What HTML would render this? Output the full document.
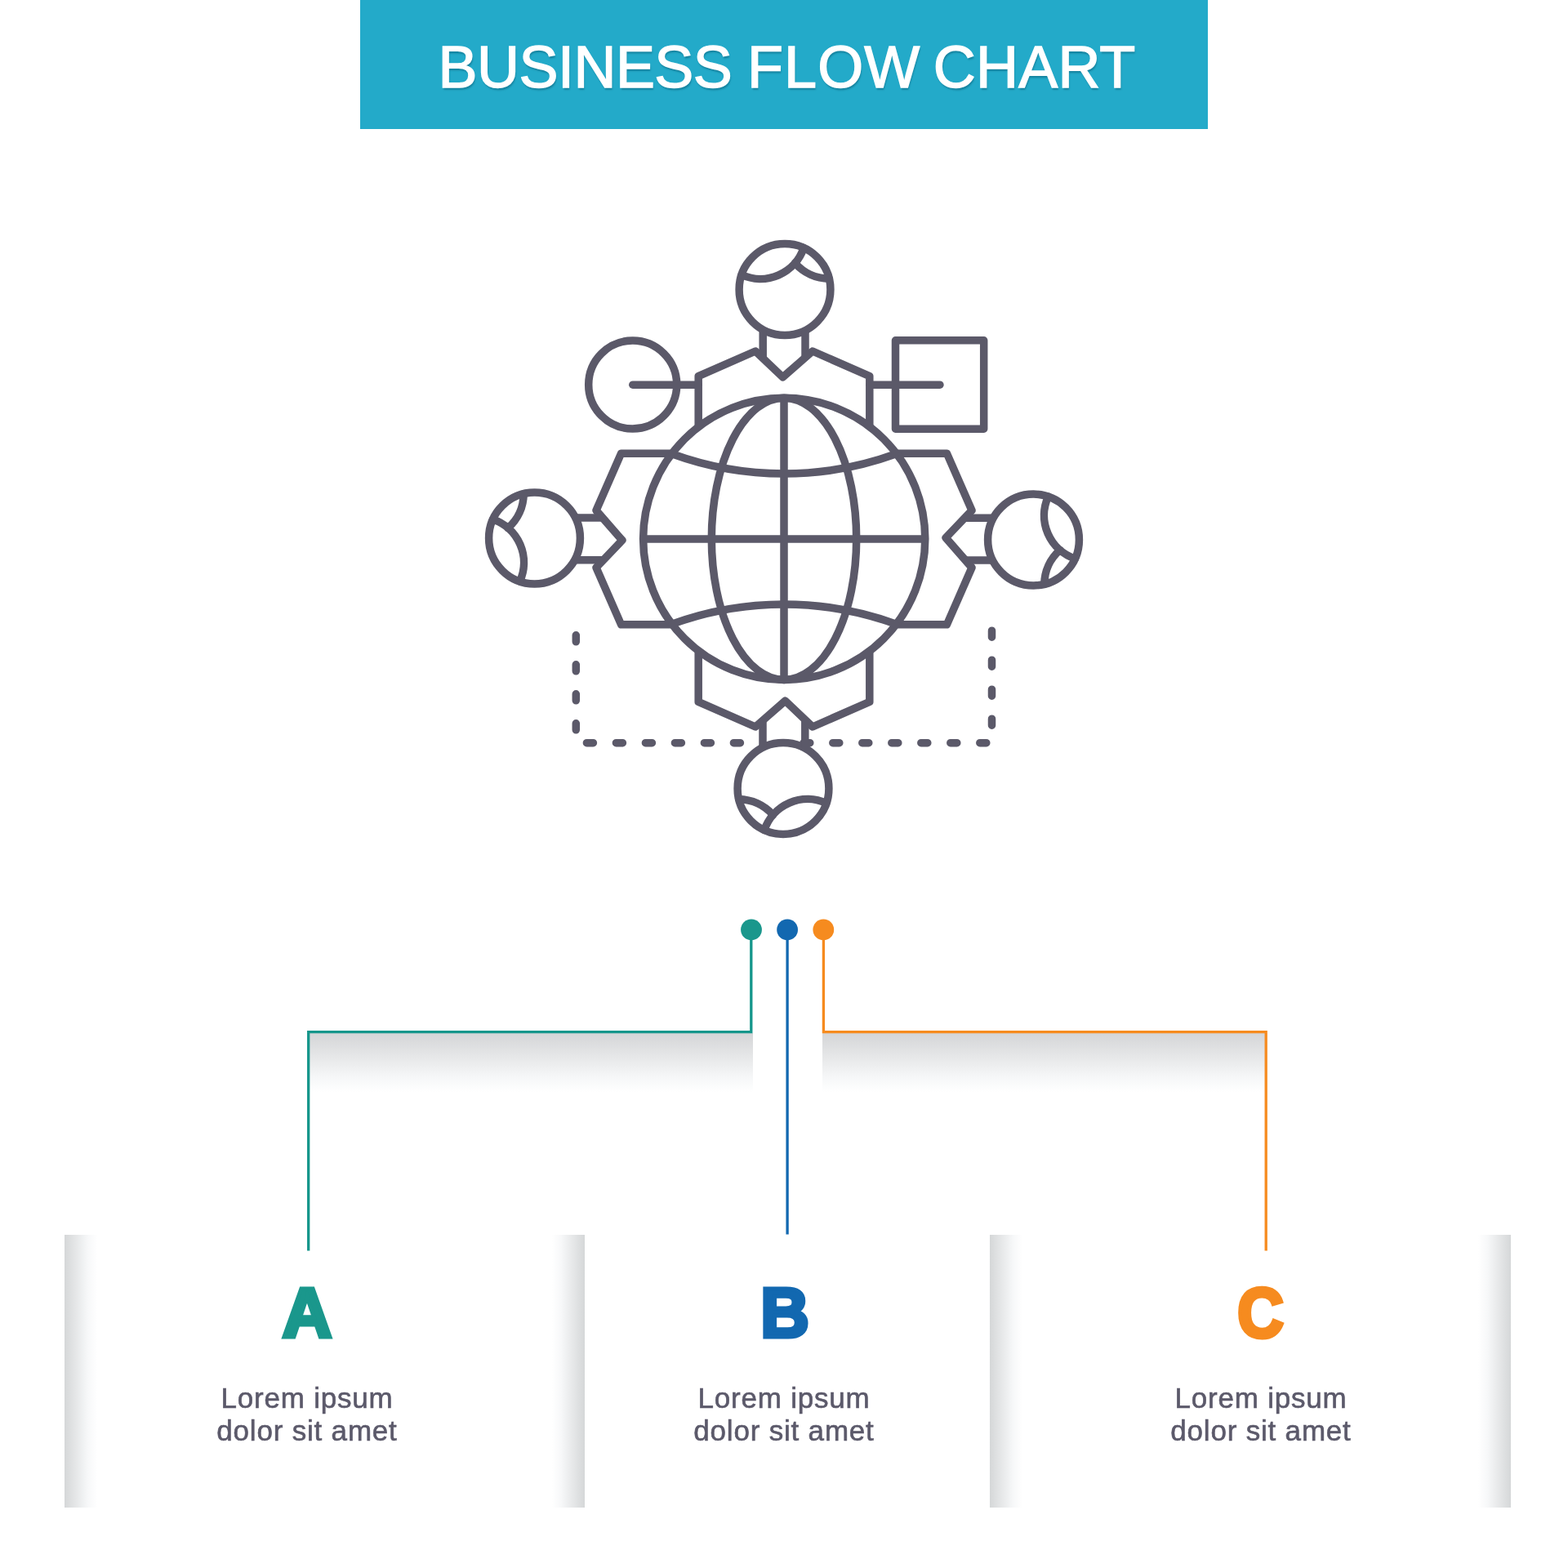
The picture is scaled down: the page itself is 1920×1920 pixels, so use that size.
<!DOCTYPE html>
<html lang="en">
<head>
<meta charset="utf-8">
<title>Business Flow Chart</title>
<style>
  html, body { margin: 0; padding: 0; }
  body {
    width: 1920px; height: 1920px; position: relative; overflow: hidden;
    background: #ffffff;
    font-family: "Liberation Sans", sans-serif;
  }
  .banner {
    position: absolute; left: 441px; top: 0; width: 1038px; height: 158px;
    background: #23aac9;
  }
  .banner h1 {
    position: absolute; left: 0; top: 0; width: 100%; margin: 0;
    font-weight: 400; font-size: 72px; line-height: 72px; color: #ffffff;
    white-space: nowrap;
    text-shadow: 1px 2.5px 2px rgba(0, 70, 95, 0.38);
    -webkit-text-stroke: 1.4px #ffffff;
  }
  .banner h1 span { position: absolute; top: 46px; }
  .art { position: absolute; left: 0; top: 0; width: 1920px; height: 1920px; }
  .edge { position: absolute; top: 1511.6px; height: 334px; width: 40px; }
  .edge.l { background: linear-gradient(to right, #d5d7d8 0%, #f7f8f9 72%, #ffffff 100%); }
  .edge.r { background: linear-gradient(to left, #d5d7d8 0%, #f7f8f9 72%, #ffffff 100%); }
  .fall { position: absolute; top: 1265px; height: 72px;
    background: linear-gradient(to bottom, #d4d5d7 0%, #e6e7e8 40%, #f6f7f8 75%, #ffffff 100%); }
  .step { position: absolute; top: 1512px; width: 400px; height: 334px; text-align: center; }
  .step .letter {
    position: absolute; left: 0; width: 100%; top: 1px; margin: 0;
    font-weight: 700; font-size: 86px; line-height: 86px;
  }
  .step p {
    position: absolute; left: 0; width: 100%; top: 0; margin: 0;
    font-size: 35px; line-height: 39.5px; color: #5b596a;
    letter-spacing: 0.8px; white-space: nowrap;
    -webkit-text-stroke: 0.6px #5b596a;
    will-change: transform;
  }
  .a .letter { color: #1a978c; -webkit-text-stroke: 5px #1a978c; }
  .b .letter { color: #1268b0; -webkit-text-stroke: 5px #1268b0; }
  .c .letter { color: #f68b1f; -webkit-text-stroke: 5px #f68b1f; }
</style>
</head>
<body>

<header class="banner">
  <h1><span style="left:95.6px; letter-spacing:-0.55px">BUSINESS</span><span style="left:474px; letter-spacing:1.1px">FLOW</span><span style="left:701.8px; letter-spacing:0.2px">CHART</span></h1>
</header>

<div class="fall" style="left:379px; width:542.5px"></div>
<div class="fall" style="left:1006.5px; width:542.5px"></div>

<div class="edge l" style="left:79px"></div>
<div class="edge r" style="left:675.8px"></div>
<div class="edge l" style="left:1212px"></div>
<div class="edge r" style="left:1809.6px"></div>

<svg class="art" viewBox="0 0 1920 1920" width="1920" height="1920">
  <defs>
    <g id="person">
      <circle cx="961" cy="354.5" r="55.9"/>
      <path d="M908.1,336.5 A55.9,55.9 0 0 0 984.1,303.6"/>
      <path d="M973.5,322.1 A56,56 0 0 0 1015.3,341.2"/>
      <path d="M934.2,405 V438.5" stroke-linecap="butt"/>
      <path d="M986,405 V438" stroke-linecap="butt"/>
      <path d="M855.2,523 V460.6 L925,430 L958.5,461.9 L995,430 L1064.8,460.6 V523" stroke-linecap="butt"/>
    </g>
  </defs>

  <!-- connectors -->
  <g fill="none" stroke-width="3.3" stroke-linejoin="miter">
    <path d="M919.8,1138 V1263.7 H377.7 V1531.5" stroke="#15968b"/>
    <path d="M964.1,1138 V1511.5" stroke="#1268b0"/>
    <path d="M1008.4,1138 V1263.7 H1550.2 V1531.5" stroke="#f68b1f"/>
  </g>
  <circle cx="920" cy="1138.4" r="12.9" fill="#1a978c"/>
  <circle cx="964.1" cy="1138.4" r="12.9" fill="#1268b0"/>
  <circle cx="1008.3" cy="1138.4" r="12.9" fill="#f68b1f"/>

  <!-- icon -->
  <g fill="none" stroke="#5b5969" stroke-width="9.5" stroke-linecap="round" stroke-linejoin="round">
    <!-- dashed links -->
    <path d="M705.3,777.8 V895 M718.4,909.7 H907" stroke-dasharray="8 28"/>
    <path d="M1214.5,772.2 V890 M1207.8,909.7 H984" stroke-dasharray="8 28"/>

    <!-- side nodes -->
    <circle cx="774.7" cy="471" r="54"/>
    <path d="M774.8,471.2 H855"/>
    <rect x="1096.5" y="416.8" width="108.2" height="108.4"/>
    <path d="M1065,471.2 H1150.9"/>

    <!-- people -->
    <use href="#person"/>
    <use href="#person" transform="rotate(90 960 660)"/>
    <use href="#person" transform="rotate(180 960 660)"/>
    <use href="#person" transform="rotate(270 960 660)"/>

    <!-- globe -->
    <circle cx="960.2" cy="659.8" r="172.6"/>
    <ellipse cx="960" cy="659.8" rx="88.7" ry="172.6"/>
    <path d="M789,660 H1131"/>
    <path d="M960,489 V831"/>
    <path d="M823.5,556 A400,400 0 0 0 1096.5,556"/>
    <path d="M823.5,764 A400,400 0 0 1 1096.5,764"/>
  </g>
</svg>

<section class="step a" style="left:175.7px">
  <h2 class="letter" style="top:52px; transform:scaleX(0.975)">A</h2>
  <p style="top:180px">Lorem ipsum<br>dolor sit amet</p>
</section>
<section class="step b" style="left:760px">
  <h2 class="letter" style="top:52px; transform:translateX(1px) scaleX(0.96)">B</h2>
  <p style="top:180px">Lorem ipsum<br>dolor sit amet</p>
</section>
<section class="step c" style="left:1344.3px">
  <h2 class="letter" style="top:52px; transform:translateX(-0.5px) scaleX(0.91)">C</h2>
  <p style="top:180px">Lorem ipsum<br>dolor sit amet</p>
</section>

</body>
</html>
